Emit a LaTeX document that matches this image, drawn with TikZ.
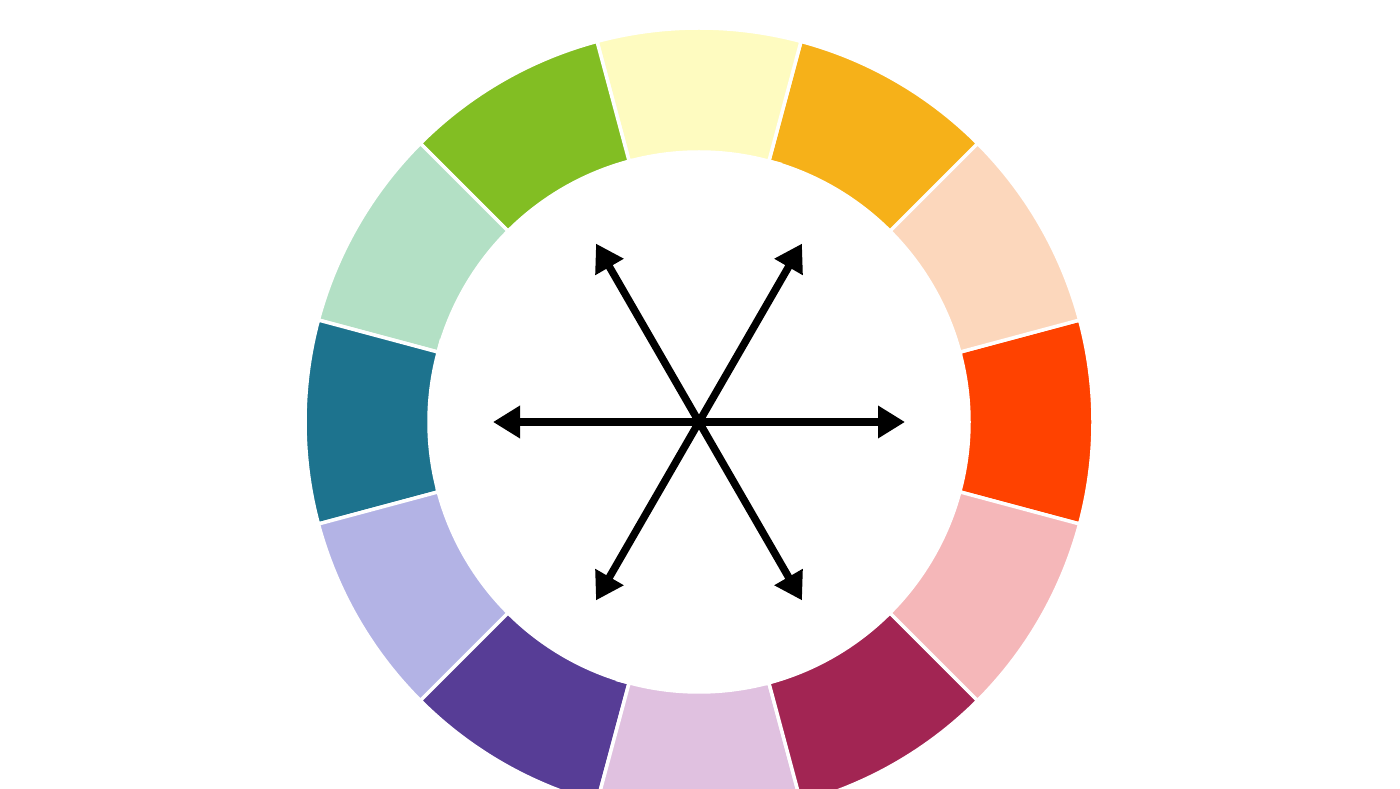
\documentclass[tikz,border=0pt]{standalone}
\usetikzlibrary{arrows.meta}
\definecolor{WheelRed}{HTML}{FF4200}
\definecolor{WheelPeach}{HTML}{FCD7BC}
\definecolor{WheelOrange}{HTML}{F6B119}
\definecolor{WheelYellow}{HTML}{FEFBC0}
\definecolor{WheelGreen}{HTML}{82BE23}
\definecolor{WheelMint}{HTML}{B3E0C5}
\definecolor{WheelTeal}{HTML}{1D738E}
\definecolor{WheelLavender}{HTML}{B3B3E5}
\definecolor{WheelPurple}{HTML}{573D96}
\definecolor{WheelLilac}{HTML}{E0C1E0}
\definecolor{WheelMaroon}{HTML}{A22553}
\definecolor{WheelPink}{HTML}{F5B7B9}
\begin{document}
\begin{tikzpicture}
   [segment/.style={draw=white,line width=.035cm},
   spoke/.style={-{Triangle[length=.27cm,width=.31cm]},black,line width=.075cm}]
    \useasboundingbox (0,0) rectangle (14,7.88);
    \coordinate (c) at (6.99,3.66);
    \begin{scope}[shift={(c)}]
    \foreach \col [count=\i from 0] in {WheelRed,WheelPeach,WheelOrange,WheelYellow,WheelGreen,WheelMint,WheelTeal,WheelLavender,WheelPurple,WheelLilac,WheelMaroon,WheelPink}
      \filldraw[segment,fill=\col] (\i*30-15:2.70) -- (\i*30-15:3.94)
        arc[start angle=\i*30-15,end angle=\i*30+15,radius=3.94]
        -- (\i*30+15:2.70)
        arc[start angle=\i*30+15,end angle=\i*30-15,radius=2.70] -- cycle;
    \end{scope}
    \foreach \a in {0,60,...,300}
      \draw[spoke] (c) -- ++(\a:2.06);
    \end{tikzpicture}
\end{document}
